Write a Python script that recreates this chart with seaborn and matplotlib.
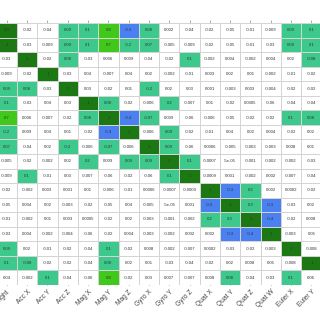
import numpy as np
import pandas as pd
import matplotlib
matplotlib.use("Agg")
import matplotlib.pyplot as plt
from matplotlib.colors import ListedColormap, BoundaryNorm
import seaborn as sns

col_labels = ["Weight", "Acc X", "Acc Y", "Acc Z", "Mag X", "Mag Y", "Mag Z",
              "Gyro X", "Gyro Y", "Gyro Z", "Quat X", "Quat Y", "Quat Z",
              "Quat W", "Euler X", "Euler Y"]
row_labels = ["Height"] + col_labels + ["Euler Z"]

r00 = [0.9, -0.02, -0.04, 0.09, 0.1, 0.8, -0.3, 0.08, 0.002, -0.04, -0.02, -0.05, -0.01, -0.009, 0.09, 0.1]
r01 = [1, -0.03, -0.009, 0.09, 0.1, 0.7, -0.2, 0.07, -0.005, -0.009, -0.02, -0.05, -0.01, -0.03, 0.09, 0.1]
r02 = [-0.03, 1, -0.02, 0.08, -0.03, 0.006, 0.009, -0.04, -0.02, 0.1, -0.002, 0.004, -0.002, 0.004, 0.02, -0.08]
r03 = [-0.009, -0.02, 1, -0.03, 0.04, -0.007, 0.04, 0.02, -0.002, -0.01, 0.003, 0.02, 0.01, -0.002, -0.01, -0.02]
r04 = [0.09, 0.08, -0.03, 1, 0.03, -0.02, 0.01, -0.2, 0.02, 0.03, 0.001, -0.003, 0.003, -0.004, -0.02, -0.02]
r05 = [0.1, -0.03, 0.04, 0.03, 1, 0.08, -0.02, -0.006, 0.2, -0.007, 0.01, -0.02, 0.0005, -0.06, -0.04, -0.04]
r06 = [0.7, 0.006, -0.007, -0.02, 0.08, 1, -0.4, -0.07, 0.009, -0.06, -0.006, -0.05, -0.02, -0.02, 0.1, 0.08]
r07 = [-0.2, 0.009, 0.04, 0.01, -0.02, -0.4, 1, -0.006, 0.09, -0.02, -0.01, 0.04, 0.02, 0.004, -0.02, 0.02]
r08 = [0.07, -0.04, 0.02, -0.2, -0.006, -0.07, -0.006, 1, 0.09, -0.06, 0.0006, -0.005, -0.003, -0.003, 0.008, 0.01]
r09 = [-0.005, -0.02, -0.002, 0.02, 0.2, 0.009, 0.09, 0.09, 1, 0.1, -0.0007, -5e-05, -0.001, -0.002, -0.002, -0.03]
r10 = [-0.009, 0.1, -0.01, 0.03, -0.007, -0.06, -0.02, -0.06, 0.1, 1, -0.0009, 0.001, -0.002, 0.002, -0.007, -0.04]
r11 = [-0.02, -0.002, 0.003, 0.001, 0.01, -0.006, -0.01, 0.0006, -0.0007, -0.0009, 1, -0.3, 0.2, 0.002, 0.0002, -0.02]
r12 = [-0.05, 0.004, 0.02, -0.003, -0.02, -0.05, 0.04, -0.005, -5e-05, 0.001, -0.3, 1, 0.3, -0.3, -0.03, 0.02]
r13 = [-0.01, -0.002, 0.01, 0.003, 0.0005, -0.02, 0.02, -0.003, -0.001, -0.002, 0.2, 0.3, 1, -0.4, -0.02, 0.008]
r14 = [-0.03, 0.004, -0.002, -0.004, -0.06, -0.02, 0.004, -0.003, -0.002, 0.002, 0.002, -0.3, -0.4, 1, -0.003, 0.05]
r15 = [0.09, 0.02, -0.01, -0.02, -0.04, 0.1, -0.02, 0.008, -0.002, -0.007, 0.0002, -0.03, -0.02, -0.003, 1, -0.008]
r16 = [0.1, -0.08, -0.02, -0.02, -0.04, 0.08, 0.02, 0.01, -0.03, -0.04, -0.02, 0.02, 0.008, 0.05, -0.008, 1]
r17 = [0.04, -0.002, 0.1, -0.04, -0.06, 0.8, -0.02, 0.03, 0.007, -0.007, 0.008, 0.08, -0.04, -0.03, 0.1, 0.06]

rows = [r00, r01, r02, r03, r04, r05, r06, r07, r08, r09,
        r10, r11, r12, r13, r14, r15, r16, r17]
df = pd.DataFrame(rows, index=row_labels, columns=col_labels)

bounds = [-1.0, -0.25, -0.065, 0.065, 0.5, 0.85, 1.0001]
colors = ["#4a80f0", "#3ec98c", "#ffffff", "#3ec98c", "#40c81a", "#1c7812"]
cmap = ListedColormap(colors)
norm = BoundaryNorm(bounds, cmap.N)

sns.set_theme(style="white")
plt.rcParams["font.family"] = ["Liberation Sans", "DejaVu Sans"]

fig = plt.figure(figsize=(3.2, 3.2), dpi=100)
ax = fig.add_axes([-3.3 / 320, 35 / 320, 324.8 / 320, 262 / 320])
sns.heatmap(df, ax=ax, cmap=cmap, norm=norm, cbar=False, annot=True, fmt=".1g",
            annot_kws={"fontsize": 3.1, "color": "#333333"},
            linewidths=0.5, linecolor="#d4d4d4", yticklabels=False)
ax.set_xticklabels(col_labels, rotation=45, ha="right", rotation_mode="anchor",
                   fontsize=4.8, color="#444444")
ax.tick_params(axis="x", bottom=True, top=False, direction="in", length=2.5,
               width=0.5, color="#666666", pad=2.5)
ax.tick_params(axis="y", left=False)
sec = ax.secondary_xaxis("top")
sec.set_xticks(ax.get_xticks())
sec.set_xticklabels([])
sec.tick_params(axis="x", direction="out", length=2.5, width=0.5,
                color="#888888", pad=0)
for s in sec.spines.values():
    s.set_visible(False)
ax.set_xlabel("")
ax.set_ylabel("")
fig.savefig("out.png", dpi=100)
